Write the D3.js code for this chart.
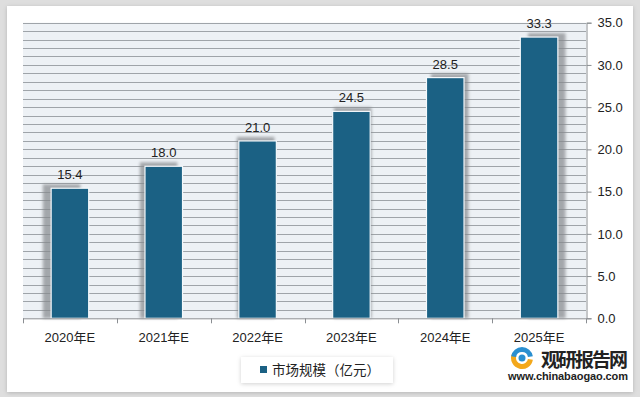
<!DOCTYPE html>
<html lang="zh">
<head>
  <meta charset="UTF-8">
  <title>市场规模</title>
  <style>
    body { margin: 0; background: #dedede; }
    text { font-family: "Liberation Sans", "Noto Sans CJK SC", sans-serif; fill: #222; }
  </style>
</head>
<body>
  <script src="https://d3js.org/d3.v7.min.js"></script>
  <script>
    const years = ['2020年E', '2021年E', '2022年E', '2023年E', '2024年E', '2025年E'];
    const values = [15.4, 18.0, 21.0, 24.5, 28.5, 33.3];
    const yTicks = [0, 5, 10, 15, 20, 25, 30, 35];
    const seriesName = '市场规模（亿元）';

    const width = 640, height = 397;
    const plot = { left: 23, right: 586, top: 22.7, bottom: 318.3 };

    const svg = d3.select('body').append('svg')
      .attr('width', width)
      .attr('height', height);

    const defs = svg.append('defs');
    defs.append('filter').attr('id', 'blur')
      .attr('x', '-50%').attr('y', '-50%').attr('width', '200%').attr('height', '200%')
      .append('feGaussianBlur').attr('stdDeviation', 1.6);
    defs.append('filter').attr('id', 'soft')
      .attr('x', '-20%').attr('y', '-50%').attr('width', '140%').attr('height', '200%')
      .append('feDropShadow')
      .attr('dx', 0).attr('dy', 1).attr('stdDeviation', 2)
      .attr('flood-color', '#000').attr('flood-opacity', 0.18);

    // outer panel
    svg.append('rect')
      .attr('x', 7).attr('y', 6).attr('width', 626).attr('height', 386)
      .attr('fill', '#fff')
      .attr('filter', 'url(#soft)');

    const x = d3.scaleBand()
      .domain(years)
      .range([plot.left, plot.right])
      .paddingInner(0.6)
      .paddingOuter(0.3);

    const y = d3.scaleLinear()
      .domain([0, 35])
      .range([plot.bottom, plot.top]);

    // plot background
    svg.append('rect')
      .attr('x', plot.left).attr('y', plot.top)
      .attr('width', plot.right - plot.left).attr('height', plot.bottom - plot.top)
      .attr('fill', '#edf1f5');

    // minor gridlines every 1.0
    svg.append('g')
      .selectAll('line')
      .data(d3.range(1, 36))
      .join('line')
      .attr('x1', plot.left).attr('x2', plot.right)
      .attr('y1', d => Math.round(y(d)) + 0.5)
      .attr('y2', d => Math.round(y(d)) + 0.5)
      .attr('stroke', '#9fa4a9')
      .attr('stroke-width', 1);

    // bar shadows (perspective: left bars cast left, right bars cast right)
    svg.append('g')
      .selectAll('rect')
      .data(values)
      .join('rect')
      .attr('x', (d, i) => x(years[i]) + (i - 2.6) * 3.2)
      .attr('y', d => y(d) - 4)
      .attr('width', x.bandwidth())
      .attr('height', d => plot.bottom - y(d) + 4)
      .attr('fill', '#85888c')
      .attr('opacity', 0.7)
      .attr('filter', 'url(#blur)');

    // bars
    svg.append('g')
      .selectAll('rect')
      .data(values)
      .join('rect')
      .attr('x', (d, i) => x(years[i]))
      .attr('y', d => y(d))
      .attr('width', x.bandwidth())
      .attr('height', d => plot.bottom - y(d))
      .attr('fill', '#1b6184')
      .attr('stroke', '#f4f8fb')
      .attr('stroke-width', 1.2);

    // value labels
    svg.append('g')
      .selectAll('text')
      .data(values)
      .join('text')
      .attr('x', (d, i) => x(years[i]) + x.bandwidth() / 2)
      .attr('y', d => y(d) - 9)
      .attr('text-anchor', 'middle')
      .attr('font-size', 13)
      .text(d => d.toFixed(1));

    // x axis
    const xAxis = svg.append('g');
    xAxis.append('line')
      .attr('x1', plot.left).attr('x2', plot.right)
      .attr('y1', plot.bottom + 0.5).attr('y2', plot.bottom + 0.5)
      .attr('stroke', '#8a8e92');
    const bounds = years.map(d => x(d) - x.step() * x.paddingInner() / 2).concat([plot.right]);
    xAxis.selectAll('.tick')
      .data(bounds)
      .join('line')
      .attr('x1', d => Math.round(d) + 0.5).attr('x2', d => Math.round(d) + 0.5)
      .attr('y1', plot.bottom).attr('y2', plot.bottom + 5)
      .attr('stroke', '#8a8e92');
    xAxis.selectAll('text')
      .data(years)
      .join('text')
      .attr('x', d => x(d) + x.bandwidth() / 2)
      .attr('y', 342)
      .attr('text-anchor', 'middle')
      .attr('font-size', 13)
      .text(d => d);

    // right y axis
    const yAxis = svg.append('g')
      .attr('transform', `translate(${plot.right + 0.5},0)`)
      .call(d3.axisRight(y).tickValues(yTicks).tickFormat(d3.format('.1f')).tickSize(5).tickPadding(6));
    yAxis.select('.domain').attr('stroke', '#8a8e92');
    yAxis.selectAll('.tick line').attr('stroke', '#8a8e92');
    yAxis.selectAll('.tick text')
      .attr('font-size', 13)
      .attr('font-family', '"Liberation Sans", sans-serif')
      .attr('fill', '#222');

    // legend
    const legend = svg.append('g').attr('transform', 'translate(241,357)');
    legend.append('rect')
      .attr('width', 152).attr('height', 26)
      .attr('fill', '#fff')
      .attr('filter', 'url(#soft)');
    legend.append('rect')
      .attr('x', 19).attr('y', 9).attr('width', 7).attr('height', 7)
      .attr('fill', '#1b6184');
    legend.append('text')
      .attr('x', 31).attr('y', 18)
      .attr('font-size', 13.5)
      .text(seriesName);

    // watermark
    const wm = svg.append('g');
    const logo = wm.append('g').attr('transform', 'translate(522,358)');
    logo.append('path')
      .attr('d', d3.arc()({ innerRadius: 6, outerRadius: 11, startAngle: Math.PI * 0.55, endAngle: Math.PI * 1.6 }))
      .attr('fill', '#f3a81b');
    logo.append('path')
      .attr('d', d3.arc()({ innerRadius: 6, outerRadius: 11, startAngle: -Math.PI * 0.45, endAngle: Math.PI * 0.45 }))
      .attr('fill', '#2a8fd0');
    logo.append('circle').attr('r', 3.5).attr('fill', '#2a8fd0');
    wm.append('text')
      .attr('x', 541).attr('y', 367)
      .attr('font-size', 19)
      .attr('font-weight', 'bold')
      .attr('textLength', 87)
      .attr('fill', '#111')
      .text('观研报告网');
    wm.append('text')
      .attr('x', 508).attr('y', 380)
      .attr('font-size', 11)
      .attr('font-weight', 'bold')
      .attr('textLength', 120)
      .attr('fill', '#111')
      .text('www.chinabaogao.com');
  </script>
</body>
</html>
